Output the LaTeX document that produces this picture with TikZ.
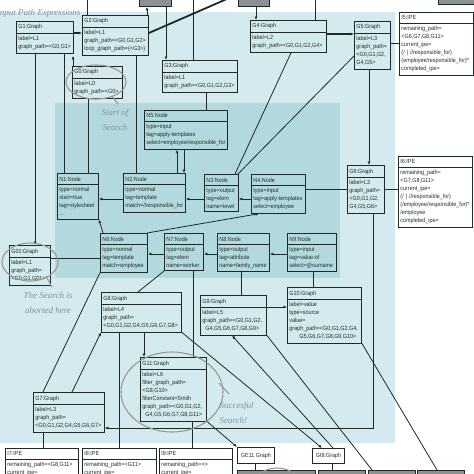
\documentclass[tikz,border=0pt]{standalone}
\usepackage{fontspec}
\newfontfamily\boxfont[FakeStretch=0.9]{Liberation Sans}
\newfontfamily\notefont{Liberation Serif}
\usetikzlibrary{arrows.meta, shapes.multipart}

\definecolor{speckblue}{RGB}{212,234,238}
\definecolor{searchteal}{RGB}{178,218,222}
\definecolor{boxline}{RGB}{30,42,42}
\definecolor{boxtext}{RGB}{35,45,45}
\definecolor{notegrey}{RGB}{130,145,160}
\definecolor{ringgrey}{RGB}{150,152,152}
\definecolor{boxgrey}{RGB}{140,146,146}

\begin{document}
\begin{tikzpicture}[x=1pt, y=-1pt,
    % boxes
    graphbox/.style={
        rectangle split,
        rectangle split parts=2,
        draw=boxline,
        line width=0.9pt,
        inner xsep=2pt,
        inner ysep=2.75pt,
        font=\boxfont\fontsize{6}{8}\selectfont,
        text=boxtext,
        align=left,
        anchor=north west
    },
    smallbox/.style={
        rectangle,
        draw=boxline,
        line width=0.9pt,
        fill=white,
        inner sep=0pt,
        font=\boxfont\fontsize{6}{8}\selectfont,
        text=boxtext,
        anchor=north west
    },
    greybox/.style={
        rectangle,
        draw=boxline,
        fill=boxgrey,
        line width=0.9pt,
        inner sep=0pt,
        anchor=north west
    },
    link/.style={draw=boxline, line width=0.8pt},
    arrow/.style={link, -{Latex[length=3.5pt,width=3pt]}},
    heavy/.style={draw=boxline, line width=1.8pt},
    ring/.style={draw=ringgrey, line width=1.1pt},
    note/.style={
        font=\notefont\itshape\fontsize{9}{15}\selectfont,
        text=notegrey,
        align=center
    }
]
\useasboundingbox (0,0) rectangle (474,474);

% === Backgrounds ===
\fill[speckblue] (0,12) rectangle (395,443);
\fill[searchteal] (55,103) rectangle (340,278);

% === Cut-off boxes at the edges ===
\node[greybox, minimum width=32pt, minimum height=16pt] (gtop1) at (139,-10) {};
\node[greybox, minimum width=31pt, minimum height=16pt] (gtop2) at (238,-10) {};
\node[greybox, minimum width=42pt, minimum height=14pt] (gtop3) at (438,-10) {};
\node[greybox, minimum width=78pt, minimum height=16pt] (gbot1) at (237,470) {};
\node[greybox, minimum width=47pt, minimum height=16pt] (gbot2) at (318,470) {};
\node[greybox, minimum width=47pt, minimum height=16pt] (gbot3) at (368,470) {};
\node[greybox, minimum width=47pt, minimum height=16pt] (gbot4) at (417,470) {};
\coordinate (t1) at (87,-5);
\coordinate (t2) at (193,-5);
\coordinate (t3) at (236,-5);
\coordinate (t4) at (315,-5);

% === Input path expression graphs ===
\node[graphbox, text width=53pt] (G1) at (16,21) {G1:Graph
    \nodepart{two} label=L1\\graph\_path=<G0,G1>};
\node[graphbox, text width=62pt] (G2) at (82,15) {G2:Graph
    \nodepart{two} label=L1\\graph\_path=<G0,G1,G2>\\loop\_graph\_path=\{<G3>\}};
\node[graphbox, text width=46pt] (G0) at (72,66) {G0:Graph
    \nodepart{two} label=L0\\graph\_path=<G0>};
\node[graphbox, text width=71pt] (G3) at (162,60) {G3:Graph
    \nodepart{two} label=L1\\graph\_path=<G0,G1,G2,G3>};
\node[graphbox, text width=72pt] (G4) at (250,20) {G4:Graph
    \nodepart{two} label=L2\\graph\_path=<G0,G1,G2,G4>};
\node[graphbox, text width=32pt] (G5) at (354,21) {G5:Graph
    \nodepart{two} label=L3\\graph\_path=\\<G0,G1,G2,\\G4,G5>};
\node[graphbox, text width=70pt, fill=white] (I5) at (399,12) {I5:IPE
    \nodepart{two} remaining\_path=\\<G6,G7,G8,G11>\\current\_ipe=\\(/ | //responsible\_for)\\(employee/responsible\_for)*\\completed\_ipe=};
\node[graphbox, text width=33pt] (G6) at (347,165) {G6:Graph
    \nodepart{two} label=L3\\graph\_path=\\<G0,G1,G2,\\G4,G5,G6>};
\node[graphbox, text width=70pt, fill=white] (I6) at (398,156) {I6:IPE
    \nodepart{two} remaining\_path=\\<G7,G8,G11>\\current\_ipe=\\(/ | //responsible\_for)\\(/employee/responsible\_for)*\\/employee\\completed\_ipe=};
\node[graphbox, text width=37pt] (G01) at (9,245) {G01:Graph
    \nodepart{two} label=L1\\graph\_path=\\<G0,G1,G01>};

% === Stylesheet nodes ===
\node[graphbox, text width=79pt] (N5) at (144,110) {N5:Node
    \nodepart{two} type=input\\tag=apply-templates\\select=employee/responsible\_for};
\node[graphbox, text width=37pt] (N1) at (57,173) {N1:Node
    \nodepart{two} type=normal\\start=true\\tag=stylesheet\\...};
\node[graphbox, text width=58pt] (N2) at (123,173) {N2:Node
    \nodepart{two} type=normal\\tag=template\\match=//responsible\_for};
\node[graphbox, text width=30pt] (N3) at (204,174) {N3:Node
    \nodepart{two} type=output\\tag=elem\\name=level};
\node[graphbox, text width=50pt] (N4) at (251,174) {N4:Node
    \nodepart{two} type=input\\tag=apply-templates\\select=employee};
\node[graphbox, text width=43pt] (N6) at (100,233) {N6:Node
    \nodepart{two} type=normal\\tag=template\\match=employee};
\node[graphbox, text width=35pt] (N7) at (164,233) {N7:Node
    \nodepart{two} type=output\\tag=elem\\name=worker};
\node[graphbox, text width=48pt] (N8) at (217,233) {N8:Node
    \nodepart{two} type=output\\tag=attribute\\name=family\_name};
\node[graphbox, text width=45pt] (N9) at (287,233) {N9:Node
    \nodepart{two} type=input\\tag=value-of\\select=@surname};

% === Lower graphs ===
\node[graphbox, text width=76pt] (G8) at (101,292) {G8:Graph
    \nodepart{two} label=L4\\graph\_path=\\<G0,G1,G2,G4,G5,G6,G7,G8>};
\node[graphbox, text width=62pt] (G9) at (200,295) {G9:Graph
    \nodepart{two} label=L5\\graph\_path=<G0,G1,G2,\\\hspace*{3pt}G4,G5,G6,G7,G8,G9>};
\node[graphbox, text width=70pt] (G10) at (287,287) {G10:Graph
    \nodepart{two} label=value\\type=source\\value=\\graph\_path=<G0,G1,G2,G4,\\\hspace*{10pt}G5,G6,G7,G8,G9,G10>};
\node[graphbox, text width=62pt] (G11) at (140,357) {G11:Graph
    \nodepart{two} label=L6\\filter\_graph\_path=\\<G8,G10>\\filterConstant=Smith\\graph\_path=<G0,G1,G2,\\\hspace*{3pt}G4,G5,G6,G7,G8,G11>};
\node[graphbox, text width=67pt] (G7) at (33,392) {G7:Graph
    \nodepart{two} label=L3\\graph\_path=\\<G0,G1,G2,G4,G5,G6,G7>};

% === IPE results ===
\node[graphbox, text width=69pt, fill=white] (I7) at (5,448) {I7:IPE
    \nodepart{two} remaining\_path=<G8,G11>\\current\_ipe=};
\node[graphbox, text width=70pt, fill=white] (I8) at (82,448) {I8:IPE
    \nodepart{two} remaining\_path=<G11>\\current\_ipe=};
\node[graphbox, text width=69pt, fill=white] (I9) at (159,448) {I9:IPE
    \nodepart{two} remaining\_path=<>\\current\_ipe=};
\node[smallbox, minimum width=37pt, minimum height=16pt] (GE11) at (237,447) {GE11 Graph};
\node[smallbox, minimum width=32pt, minimum height=15pt] (GI8) at (312,448) {GI8:Graph};

% === Arrows ===
\draw[link] (t1) -- (G2.north -| 87,0);
\draw[arrow] (G2.north -| 147,0) -- (gtop1.south -| 147,0);
\draw[arrow] (gtop1.south -| 166,0) -- (G3.north -| 166,0);
\draw[link] (t2) -- (G3.north -| 193,0);
\draw[heavy] (G2.east |- 0,33) -- (t3);
\draw[arrow] (gtop2.south -| 256,0) -- (G4.north -| 256,0);
\draw[link] (t4) -- (G4.north -| 315,0);
\draw[arrow, line width=1.8pt] (G1.east |- 0,33) -- (G2.west |- 0,33);
\draw[arrow, line width=1.8pt] (G4.east |- 0,34) -- (G5.west |- 0,34);
\draw[link] (G5.east |- 0,43) -- (I5.west |- 0,43);
\draw[link] (G4.south -| 291,0) -- (N3.north -| 235,0);
\draw[link] (G5.west |- 0,56) -- (N3.north -| 238,0);
\draw[arrow] (G5.south -| 369,0) -- (G6.north -| 369,0);
\draw[arrow] (G1.south -| 35,0) -- (G01.north -| 35,0);
\draw[link] (G1.south -| 64,0) -- (N1.north -| 64,0);
\draw[link] (G0.south -| 88,0) -- (N1.north -| 88,0);
\draw[arrow] (G0.north -| 73,0) -- (G2.south -| 73,0);
\draw[link] (G2.south -| 136,0) -- (N2.north -| 136,0);
\draw[link] (G3.south -| 206,0) -- (N5.north -| 206,0);
\draw[arrow] (N2.north -| 177,0) -- (N5.south -| 177,0);
\draw[arrow] (N5.south -| 184,0) -- (N2.north -| 184,0);
\draw[arrow] (N2.west |- 0,199) -- (N1.east |- 0,199);
\draw[arrow] (N3.west |- 0,199) -- (N2.east |- 0,199);
\draw[arrow] (N4.west |- 0,199) -- (N3.east |- 0,199);
\draw[link] (N4.east |- 0,189) -- (G6.west |- 0,189);
\draw[link] (G6.east |- 0,189) -- (I6.west |- 0,189);
\draw[arrow] (N6.north -| 147,0) -- (N4.south -| 259,0);
\draw[arrow] (N6.north -| 103,0) -- (N1.south east);
\draw[link] (G01.east |- 0,258) -- (N6.west |- 0,258);
\draw[arrow] (N7.west |- 0,254) -- (N6.east |- 0,254);
\draw[arrow] (N8.west |- 0,254) -- (N7.east |- 0,254);
\draw[arrow] (N9.west |- 0,254) -- (N8.east |- 0,254);
\draw[link] (N7.south west) -- (G8.north -| 138,0);
\draw[link] (N7.south -| 193,0) -- (G11.north -| 193,0);
\draw[link] (N6.south west) -- (G7.north -| 43,0);
\draw[arrow] (G7.north -| 72,0) -- (G8.south west);
\draw[link] (N8.south -| 241,0) -- (G9.north -| 241,0);
\draw[link] (N9.south -| 313,0) -- (G10.north -| 313,0);
\draw[arrow] (G9.east |- 0,307) -- (G10.west |- 0,307);
\draw[link] (G8.south -| 119,0) -- (I8.north -| 119,0);
\draw[arrow] (G8.south -| 144,0) -- (G11.north -| 144,0);
\draw[link] (G11.south -| 192,0) -- (I9.north -| 192,0);
\draw[arrow] (G11.south east) -- (GE11.north west);
\draw[link] (GE11.south -| 255,0) -- (gbot1.north -| 255,0);
\draw[arrow] (G8.south east) -- (GI8.north -| 322,0);
\draw[arrow] (GI8.north -| 333,0) -- (G9.south -| 232,0);
\draw[link] (GI8.south -| 332,0) -- (gbot2.north -| 332,0);
\draw[link] (G9.south east) -- (gbot3.north -| 372,0);
\draw[link] (G10.south east) -- (gbot4.north -| 437,0);
\draw[arrow] (G6.south -| 373,0) |- (G7.east |- 0,428);
\draw[link] (G7.south -| 43,0) -- (I7.north -| 43,0);

% === Callouts ===
\draw[ring] (96,82) ellipse [x radius=30, y radius=17];
\draw[ring] (112,96) -- (118,104);
\draw[ring] (30,262) ellipse [x radius=28, y radius=19];
\draw[ring] (46,276) -- (52,287);
\draw[ring] (172,392) ellipse [x radius=51, y radius=40];
\draw[ring] (219,383) -- (229,394);
\draw[ring] (277,490) ellipse [x radius=26, y radius=22];

\node[note, anchor=east] (inputnote) at (84,13) {Input Path Expressions};
\node[note] (startnote) at (115,120) {Start of\\Search};
\node[note] (abortnote) at (48,303) {The Search is\\aborted here};
\node[note, align=left, anchor=west] (successnote) at (216,413) {Succesful\\Search!};

\end{tikzpicture}
\end{document}
